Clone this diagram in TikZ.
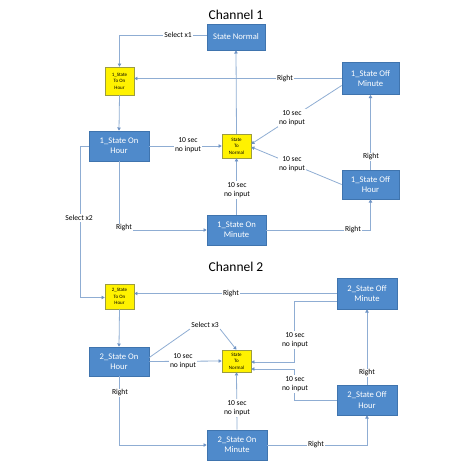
\documentclass[tikz,border=0pt]{standalone}
\usepackage{fontspec}
\setmainfont{Carlito}
\usetikzlibrary{arrows.meta}
\definecolor{boxblue}{HTML}{4F8ACB}
\definecolor{boxedge}{HTML}{3F74AE}
\definecolor{linec}{HTML}{8FADD3}
\definecolor{tipc}{HTML}{6E93C4}
\definecolor{yedge}{HTML}{9C9C40}
\tikzset{
  bluebox/.style={draw=boxedge, line width=0.6pt, fill=boxblue, text=white, align=center, inner sep=0pt, font=\fontsize{8.6}{10.4}\selectfont},
  ybox/.style={draw=yedge, line width=0.5pt, fill=yellow, text=black, align=center, inner sep=0pt, font=\fontsize{5}{6.6}\selectfont},
  lbl/.style={fill=white, text=black, align=center, inner sep=1.2pt, font=\fontsize{7.6}{9.2}\selectfont},
  ttl/.style={font=\fontsize{13.5}{15}\selectfont, text=black},
  conn/.style={draw=linec, line width=0.8pt},
  arr/.style={conn, -{Triangle[length=3.2pt,width=3.4pt,color=tipc]}}
}
\begin{document}
\begin{tikzpicture}[x=1pt,y=-1pt]
\useasboundingbox (0,0) rectangle (474,474);
% ---------- Channel 1 ----------
\node[ttl] (t1) at (236,15) {Channel 1};
\node[bluebox, minimum width=58pt, minimum height=26pt] (SN) at (236,37) {State Normal};
\node[ybox, minimum width=29pt, minimum height=28pt] (Y1) at (119.5,81) {1\_State\\To On\\Hour};
\node[bluebox, minimum width=57pt, minimum height=32pt] (OM1) at (370.5,78.5) {1\_State Off\\Minute};
\node[bluebox, minimum width=60pt, minimum height=30pt] (OH1) at (119,146) {1\_State On\\Hour};
\node[ybox, minimum width=29pt, minimum height=24pt] (N1) at (236.5,146) {State\\To\\Normal};
\node[bluebox, minimum width=57pt, minimum height=29pt] (FH1) at (370.5,184.5) {1\_State Off\\Hour};
\node[bluebox, minimum width=59pt, minimum height=30pt] (OMi1) at (236.5,230) {1\_State On\\Minute};

\draw[arr] ([yshift=2pt]SN.west) -| (Y1.north);
\draw[arr] (OM1.west) -- (OM1.west -| Y1.east);
\draw[arr] (Y1.south) -- (OH1.north);
\draw[arr] (OH1.east) -- (N1.west);
\draw[arr] (N1.north) -- (SN.south);
\draw[arr] ([yshift=-7pt]OM1.west) -- ([yshift=2pt]N1.east);
\draw[arr] (FH1.west) -- ([yshift=-1pt]N1.east);
\draw[arr] (FH1.north) -- (OM1.south);
\draw[arr] (OMi1.north) -- (N1.south);
\draw[arr] (OH1.south) |- (OMi1.west);
\draw[arr] (OMi1.east) -| (FH1.south);

\node[lbl] (l1) at (178,35) {Select x1};
\node[lbl] (l2) at (285,79) {Right};
\node[lbl] (l3) at (188,145) {10 sec\\no input};
\node[lbl] (l4) at (292,118) {10 sec\\no input};
\node[lbl] (l5) at (292,164) {10 sec\\no input};
\node[lbl] (l6) at (371,157) {Right};
\node[lbl] (l7) at (237,190) {10 sec\\no input};
\node[lbl] (l8) at (124,228) {Right};
\node[lbl] (l9) at (353,230) {Right};

% ---------- Channel 2 ----------
\node[ttl] (t2) at (236,267) {Channel 2};
\node[ybox, minimum width=29pt, minimum height=25pt] (Y2) at (119.5,296.5) {2\_State\\To On\\Hour};
\node[bluebox, minimum width=60pt, minimum height=31pt] (OM2) at (367,293.5) {2\_State Off\\Minute};
\node[bluebox, minimum width=60pt, minimum height=29pt] (OH2) at (119,361.5) {2\_State On\\Hour};
\node[ybox, minimum width=29pt, minimum height=22pt] (N2) at (236.5,361) {State\\To\\Normal};
\node[bluebox, minimum width=60pt, minimum height=30pt] (FH2) at (367,400) {2\_State Off\\Hour};
\node[bluebox, minimum width=60pt, minimum height=30pt] (OMi2) at (237,445) {2\_State On\\Minute};
\node[lbl] (sel3) at (205,325) {Select x3};

\draw[arr] (OH1.west) -- ++(-8,0) |- ([yshift=-1pt]Y2.west);
\draw[arr] (OM2.west) -- (OM2.west -| Y2.east);
\draw[arr] (Y2.south) -- (OH2.north);
\draw[conn] ([yshift=4pt]OH2.east) -- (sel3.south west);
\draw[arr] (sel3.south east) -- (N2.north);
\draw[arr] (OH2.east) -- (N2.west);
\draw[arr] ([yshift=-8pt]OM2.west) -- ++(-42,0) |- ([yshift=-1pt]N2.east);
\draw[arr] (FH2.west) -- ++(-42,0) |- ([yshift=-8pt]N2.east);
\draw[arr] (FH2.north) -- (OM2.south);
\draw[arr] (OMi2.north) -- (N2.south);
\draw[arr] (OH2.south) |- (OMi2.west);
\draw[arr] (OMi2.east) -| (FH2.south);

\node[lbl] (m0) at (79,218) {Select x2};
\node[lbl] (m1) at (231,294) {Right};
\node[lbl] (m2) at (183,361) {10 sec\\no input};
\node[lbl] (m3) at (295,340) {10 sec\\no input};
\node[lbl] (m4) at (295,384) {10 sec\\no input};
\node[lbl] (m5) at (367,373) {Right};
\node[lbl] (m6) at (237,408) {10 sec\\no input};
\node[lbl] (m7) at (120,393) {Right};
\node[lbl] (m8) at (316,445) {Right};
\end{tikzpicture}
\end{document}
